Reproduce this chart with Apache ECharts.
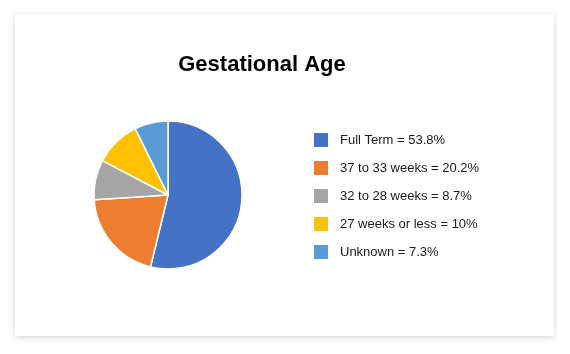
<!DOCTYPE html>
<html>
<head>
<meta charset="utf-8">
<script src="https://cdn.jsdelivr.net/npm/echarts@6/dist/echarts.min.js"></script>
<style>
  html, body { margin: 0; padding: 0; background: #fff; }
  #card {
    position: absolute; left: 15px; top: 14px; width: 539px; height: 322px;
    background: #fff; box-shadow: 0 1px 6px rgba(0,0,0,0.18);
  }
  #chart { width: 539px; height: 322px; }
</style>
</head>
<body>
<div id="card"><div id="chart"></div></div>
<script>
// categories and shares (%)
var categories = ["Full Term", "37 to 33 weeks", "32 to 28 weeks", "27 weeks or less", "Unknown"]
var shares = [53.8, 20.2, 8.7, 10, 7.3]
var colors = ["#4472C4", "#ED7D31", "#A5A5A5", "#FFC000", "#5B9BD5"]

var pieData = categories.map(function (c, i) {
  return { name: c, value: shares[i] }
})

var chart = echarts.init(document.getElementById("chart"))
chart.setOption({
  animation: false,
  color: colors,
  title: {
    text: "Gestational Age",
    left: 242,
    top: 35,
    textAlign: "center",
    textStyle: {
      fontFamily: "Liberation Sans, Arial, sans-serif",
      fontSize: 22,
      fontWeight: "bold",
      color: "#000"
    }
  },
  legend: {
    orient: "vertical",
    left: 299,
    top: 119,
    padding: 0,
    itemWidth: 14,
    itemHeight: 14,
    itemGap: 14,
    icon: "rect",
    itemStyle: { borderWidth: 0 },
    formatter: function (name) {
      var i = categories.indexOf(name)
      return name + " = " + shares[i] + "%"
    },
    textStyle: {
      fontFamily: "Liberation Sans, Arial, sans-serif",
      fontSize: 13,
      color: "#1a1a1a",
      padding: [0, 0, 0, 7]
    }
  },
  series: [
    {
      type: "pie",
      center: [153, 181],
      radius: 74,
      startAngle: 90,
      clockwise: true,
      label: { show: false },
      labelLine: { show: false },
      emphasis: { disabled: true },
      itemStyle: { borderColor: "#fff", borderWidth: 1.5 },
      data: pieData
    }
  ]
})
</script>
</body>
</html>
